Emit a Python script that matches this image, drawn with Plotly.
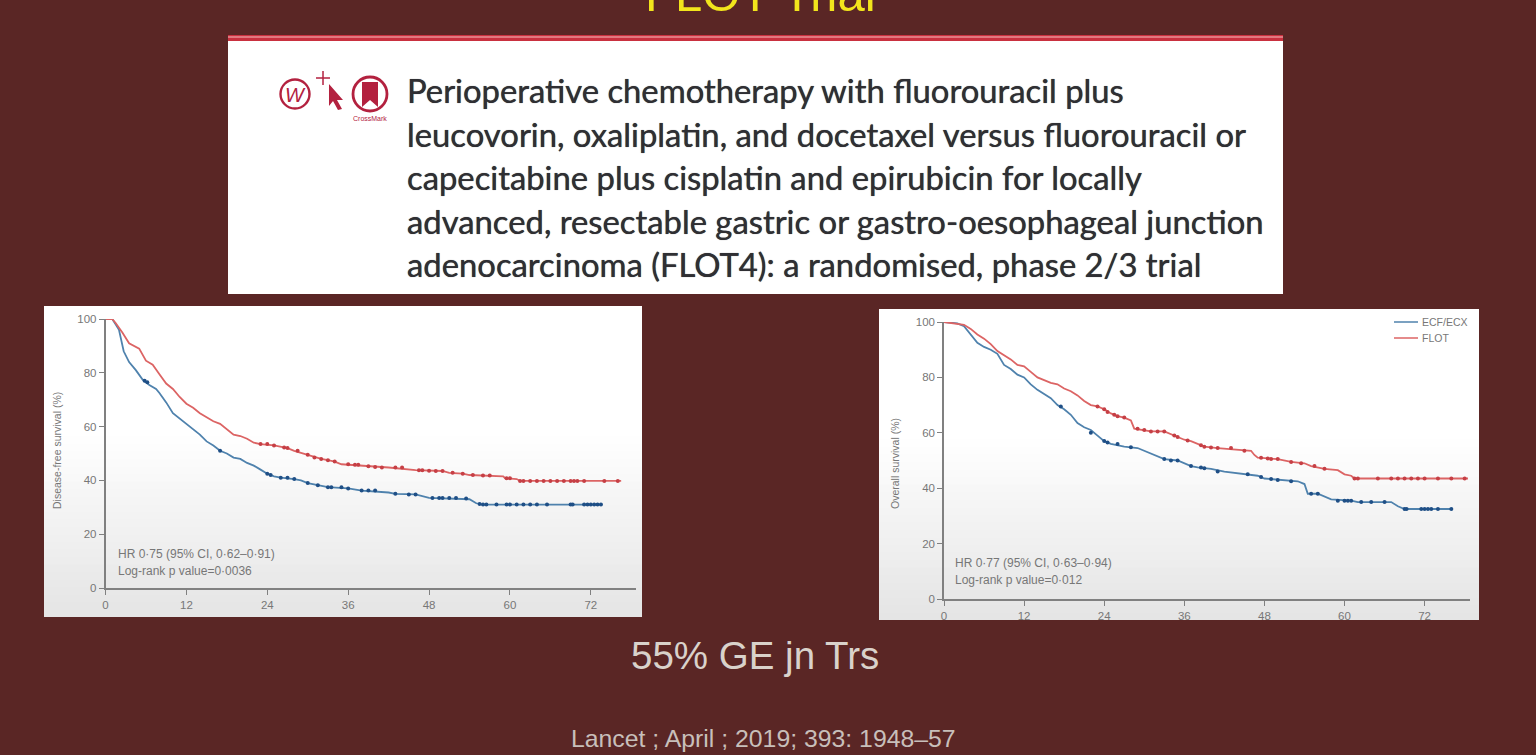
import plotly.graph_objects as go
from plotly.subplots import make_subplots

W = 1536
H = 755

# Disease-free survival
dfs_flot_x = [0, 1, 1.5, 2.5, 3.5, 5, 6, 7, 8, 9, 10, 11, 12, 13, 14, 15, 16, 17, 18, 19, 20, 21, 22, 23, 25, 26, 27, 28, 30, 31, 32, 33, 34, 35, 38, 40, 42, 46, 50, 51, 53, 54, 57, 59, 59.3, 61, 61.5, 76.5]
dfs_flot_y = [100, 100, 98.5, 95, 91, 89, 84.5, 83, 79.5, 76, 74, 71, 68.5, 67, 65, 63.5, 62, 61, 59, 57, 56.5, 55.5, 54, 53.5, 53, 52.5, 52, 51, 49.5, 48.5, 48, 47.5, 47, 46, 45.5, 45, 44.8, 43.8, 43.5, 42.8, 42.5, 42, 41.8, 41.5, 40.8, 40.5, 39.8, 39.8]
dfs_ecf_x = [0, 1, 1.5, 2, 2.7, 3.5, 4.5, 5.5, 6.5, 7.5, 8, 9, 10, 11, 12, 13, 14, 15, 16, 17, 18, 19, 20, 21, 22, 23, 24, 25, 26, 28, 29, 30, 31, 32, 33, 36, 37, 38, 42, 43, 46, 47, 48, 54, 55, 56, 73.5]
dfs_ecf_y = [100, 100, 98, 96, 88, 84, 81, 77.5, 75.5, 74, 72.5, 69, 65, 63, 61, 59, 57, 54.5, 53, 51, 50, 48.5, 48, 46.5, 45.5, 44, 42.5, 41.5, 41, 40.5, 40, 39, 38.5, 38, 37.5, 37, 36.5, 36.2, 35.5, 35, 34.8, 34.2, 33.5, 33, 31.5, 31, 31]

dfs_flot_cens_x = [23, 24, 25, 26.5, 27, 28.5, 30, 31, 32, 33, 34, 36, 37, 37.5, 39, 40, 41, 43, 44, 46.5, 47, 48, 49, 50, 51.5, 53, 54.5, 56, 57, 59.5, 60, 61.5, 62, 63, 64, 65, 66, 67, 68, 69, 69.5, 70, 71, 74, 76]
dfs_flot_cens_y = [53.5, 53.5, 53, 52.2, 52, 51, 49.5, 48.5, 48, 47.5, 47, 46, 45.8, 45.8, 45.3, 45, 44.8, 44.8, 44.8, 43.8, 43.8, 43.6, 43.5, 43.5, 42.8, 42.5, 42, 41.8, 41.8, 40.8, 40.8, 39.8, 39.8, 39.8, 39.8, 39.8, 39.8, 39.8, 39.8, 39.8, 39.8, 39.8, 39.8, 39.8, 39.8]
dfs_ecf_cens_x = [5.8, 6.2, 17, 24, 24.5, 26, 27, 28, 30, 31.5, 33, 33.5, 35, 36, 38, 39, 40, 43, 45, 46, 48.5, 49.5, 50, 51, 52, 53.5, 55.5, 56, 56.5, 58, 59.5, 60, 61, 62, 63, 64, 65.5, 69, 69.3, 71, 71.5, 72, 72.5, 73, 73.5]
dfs_ecf_cens_y = [77, 76.5, 51, 42.5, 42, 41, 41, 40.5, 39, 38.2, 37.5, 37.5, 37.5, 37, 36.2, 36.2, 36.2, 35, 34.8, 34.8, 33.5, 33.5, 33.5, 33.5, 33.5, 33.3, 31.2, 31, 31, 31, 31, 31, 31, 31, 31, 31, 31, 31, 31, 31, 31, 31, 31, 31, 31]

# Overall survival
os_flot_x = [0, 2, 3, 4, 5, 6, 7, 8, 9, 10, 11, 12, 13, 14, 15, 16, 17, 18, 19, 20, 21, 22, 23, 24, 25, 26, 27, 28, 28.5, 30, 31, 33, 34, 35, 36, 37, 38, 39, 41, 45, 46, 46.5, 47, 50, 52, 54, 55, 57, 59, 60, 61, 61.5, 78.5]
os_flot_y = [100, 99.5, 99, 97.5, 95.5, 94, 92, 89.5, 88, 86.5, 84.5, 84, 82, 80, 79, 78, 77.5, 76, 75, 73.5, 71.5, 70, 69.5, 68.5, 67, 66, 65.5, 64.5, 61.5, 61, 60.5, 60.5, 59.5, 58.5, 57.5, 57, 56, 55, 54.5, 53.5, 53.5, 52, 51, 50.5, 49.5, 49, 48, 47, 46.5, 45, 44.5, 43.5, 43.5]
os_ecf_x = [0, 2, 3, 4, 5, 6, 7, 8, 9, 10, 11, 12, 13, 14, 15, 16, 17, 18, 19, 20, 21, 22, 23, 24, 25, 27, 29, 30, 31, 32, 33, 35, 36, 37, 38, 40, 42, 44, 46, 47, 48, 51, 53, 54, 54.5, 56, 57, 58, 61, 62, 67, 68, 69, 76]
os_ecf_y = [100, 99.5, 98.5, 95.5, 92.5, 91, 90, 88.5, 84.5, 83, 81, 80, 77.5, 75.5, 74, 72.5, 70, 68.5, 66.5, 63.5, 62, 61, 59, 57, 56, 55, 54.5, 53.5, 52.5, 51.5, 50.5, 50, 49, 48, 47.5, 47, 46, 45.5, 45, 44.5, 43.5, 43, 42.5, 41.5, 38, 38, 37, 36, 35.5, 35, 35, 33.5, 32.5, 32.5]

os_flot_cens_x = [23, 24, 24.5, 25.5, 26, 27, 29, 30, 31, 32, 33, 34.5, 35, 36.5, 38.5, 39, 40, 41, 43, 45, 47.5, 48.5, 49, 50, 52, 53.5, 55.5, 57, 61.5, 62, 65, 67, 68, 69, 70, 71, 72, 74, 76, 78]
os_flot_cens_y = [69.5, 68.5, 67.5, 66.5, 66, 65.5, 61.5, 61, 60.5, 60.5, 60.5, 59, 58.5, 57.2, 55.5, 55, 54.7, 54.5, 54.5, 53.5, 51, 50.7, 50.5, 50.5, 49.5, 49, 48, 47, 43.5, 43.5, 43.5, 43.5, 43.5, 43.5, 43.5, 43.5, 43.5, 43.5, 43.5, 43.5]
os_ecf_cens_x = [17.5, 22, 24, 24.5, 26, 28, 33, 34, 35, 37, 38.5, 39, 41, 45.5, 47.5, 49, 50, 52, 55, 56, 59, 60, 60.5, 61, 62.5, 64, 66, 69, 69.3, 71.5, 72, 72.5, 73, 74, 76]
os_ecf_cens_y = [69.5, 60, 57, 56.5, 56, 54.8, 50.5, 50, 50, 48, 47.5, 47.2, 46, 45, 44, 43.3, 43, 42.5, 38, 38, 35.5, 35.5, 35.5, 35.5, 35, 35, 35, 32.5, 32.5, 32.5, 32.5, 32.5, 32.5, 32.5, 32.5]

x_ticks = [0, 12, 24, 36, 48, 60, 72]
y_ticks = [0, 20, 40, 60, 80, 100]

heading_lines = [
    "Perioperative chemotherapy with fluorouracil plus",
    "leucovorin, oxaliplatin, and docetaxel versus fluorouracil or",
    "capecitabine plus cisplatin and epirubicin for locally",
    "advanced, resectable gastric or gastro-oesophageal junction",
    "adenocarcinoma (FLOT4): a randomised, phase 2/3 trial",
]

BG = "#5a2625"
AXIS_GREY = "#808080"
TEXT_GREY = "#777777"
BLUE = "#4f82ad"
BLUE_DARK = "#1f4f86"
RED = "#dc6464"
RED_DARK = "#c63f45"
LOGO = "#b3213f"


def px(x):
    return x / W


def py(y):
    return 1 - y / H


def note(text, x, y, size, color, family="Liberation Sans", anchor="left", shadow="none"):
    return dict(
        text=text, x=px(x), y=py(y), xref="paper", yref="paper", showarrow=False,
        xanchor=anchor, yanchor="middle", align=anchor,
        font=dict(family=family, size=size, color=color, shadow=shadow),
    )


def rect(x0, y0, x1, y1, color):
    return dict(
        type="rect", xref="paper", yref="paper", layer="below",
        x0=px(x0), y0=py(y0), x1=px(x1), y1=py(y1),
        fillcolor=color, line=dict(width=0),
    )


def ring(cx, cy, r, width):
    return dict(
        type="circle", xref="paper", yref="paper", layer="above",
        x0=px(cx - r), y0=py(cy - r), x1=px(cx + r), y1=py(cy + r),
        line=dict(color=LOGO, width=width),
    )


def poly(points, color, width=0, closed=True):
    path = "M " + " L ".join(f"{px(a):.5f},{py(b):.5f}" for a, b in points)
    if closed:
        path += " Z"
    return dict(
        type="path", xref="paper", yref="paper", layer="above", path=path,
        fillcolor=color if closed else "rgba(0,0,0,0)",
        line=dict(color=color, width=width),
    )


def panel(x0, y0, x1, y1):
    # white card that fades to light grey towards the bottom
    bands = [rect(x0, y0, x1, y1, "#ffffff")]
    top = y0 + (y1 - y0) * 0.42
    steps = 24
    for i in range(steps):
        g = 255 - round(26 * (i + 1) / steps)
        a = top + (y1 - top) * i / steps
        bands.append(rect(x0, a, x1, y1, f"rgb({g},{g},{g})"))
    return bands


fig = make_subplots(rows=1, cols=2)


def add_km(col, x, y, cx, cy, line_color, dot_color, name):
    fig.add_trace(
        go.Scatter(
            x=x, y=y, mode="lines", name=name, showlegend=False,
            line=dict(color=line_color, width=1.8),
        ),
        row=1, col=col,
    )
    fig.add_trace(
        go.Scatter(
            x=cx, y=cy, mode="markers", showlegend=False,
            marker=dict(color=dot_color, size=4, symbol="circle"),
        ),
        row=1, col=col,
    )


add_km(1, dfs_ecf_x, dfs_ecf_y, dfs_ecf_cens_x, dfs_ecf_cens_y, BLUE, BLUE_DARK, "ECF/ECX")
add_km(1, dfs_flot_x, dfs_flot_y, dfs_flot_cens_x, dfs_flot_cens_y, RED, RED_DARK, "FLOT")
add_km(2, os_ecf_x, os_ecf_y, os_ecf_cens_x, os_ecf_cens_y, BLUE, BLUE_DARK, "ECF/ECX")
add_km(2, os_flot_x, os_flot_y, os_flot_cens_x, os_flot_cens_y, RED, RED_DARK, "FLOT")

axis_style = dict(
    showgrid=False, zeroline=False, showline=True, linecolor=AXIS_GREY, linewidth=1.5,
    ticks="outside", ticklen=5, tickcolor=AXIS_GREY,
    tickfont=dict(family="Liberation Sans", size=11.5, color=TEXT_GREY),
)
fig.update_xaxes(tickvals=x_ticks, **axis_style)
fig.update_yaxes(tickvals=y_ticks, range=[0, 100], **axis_style)

fig.update_xaxes(domain=[px(105.5), px(636)], range=[0, 78.7], row=1, col=1)
fig.update_xaxes(domain=[px(944), px(1470)], range=[0, 78.8], row=1, col=2)
fig.update_yaxes(domain=[py(588), py(319)], row=1, col=1)
fig.update_yaxes(domain=[py(599), py(322)], row=1, col=2)
fig.update_traces(cliponaxis=False)

shapes = []
shapes += panel(44, 306, 642, 617)
shapes += panel(879, 309, 1479, 620)
shapes.append(rect(228, 35, 1283, 41, "#c9303f"))
shapes.append(rect(228, 36, 1283, 38, "#e0787f"))
shapes.append(rect(228, 41, 1283, 294, "#ffffff"))

# Lancet icons
shapes.append(ring(295, 94, 14.5, 2.4))
shapes.append(ring(370, 94, 17, 2.8))
shapes.append(poly([(362, 82), (378, 82), (378, 107), (370, 100), (362, 107)], LOGO))
shapes.append(poly([(329, 84), (343, 100), (337, 100), (342, 109), (338, 110), (333, 101), (329, 106)], LOGO))
shapes.append(poly([(323, 71), (323, 85)], LOGO, width=1.5, closed=False))
shapes.append(poly([(316, 78), (330, 78)], LOGO, width=1.5, closed=False))

# key of the right panel
shapes.append(poly([(1394, 322), (1418, 322)], BLUE, width=1.5, closed=False))
shapes.append(poly([(1394, 338), (1418, 338)], RED, width=1.5, closed=False))

annotations = [
    note("FLOT Trial", 760, -6, 49, "#f2e51c", anchor="center"),
    note("55% GE jn Trs", 755, 655, 38.5, "#d9d2cb", anchor="center"),
    note("Lancet ; April ; 2019; 393: 1948–57", 763, 738, 24.8, "#c8bfba", anchor="center"),
    note("<i>W</i>", 295, 95, 20, LOGO, anchor="center"),
    note("CrossMark", 370, 118, 7, LOGO, anchor="center"),
    note("HR 0·75 (95% CI, 0·62–0·91)", 116, 554, 12, TEXT_GREY),
    note("Log-rank p value=0·0036", 116, 571, 12, TEXT_GREY),
    note("HR 0·77 (95% CI, 0·63–0·94)", 953, 563, 12, TEXT_GREY),
    note("Log-rank p value=0·012", 953, 580, 12, TEXT_GREY),
    note("ECF/ECX", 1420, 322, 10.5, TEXT_GREY),
    note("FLOT", 1420, 338, 10.5, TEXT_GREY),
]
for i, line in enumerate(heading_lines):
    annotations.append(
        note(line, 405, 90.5 + i * 43.6, 32.8, "#2f2f33", family="Lato", shadow="0 0 0.7px #2f2f33")
    )

for label, x, y in [("Disease-free survival (%)", 57, 451), ("Overall survival (%)", 895, 464)]:
    a = note(label, x, y, 10.5, TEXT_GREY, anchor="center")
    a["textangle"] = -90
    annotations.append(a)

fig.update_layout(
    width=W,
    height=H,
    margin=dict(l=0, r=0, t=0, b=0, autoexpand=False),
    paper_bgcolor=BG,
    plot_bgcolor="rgba(0,0,0,0)",
    showlegend=False,
    shapes=shapes,
    annotations=annotations,
)

fig.write_html(
    "out.html",
    config={"displayModeBar": False},
    post_script="document.body.style.margin='0';document.body.style.overflow='hidden';",
)
